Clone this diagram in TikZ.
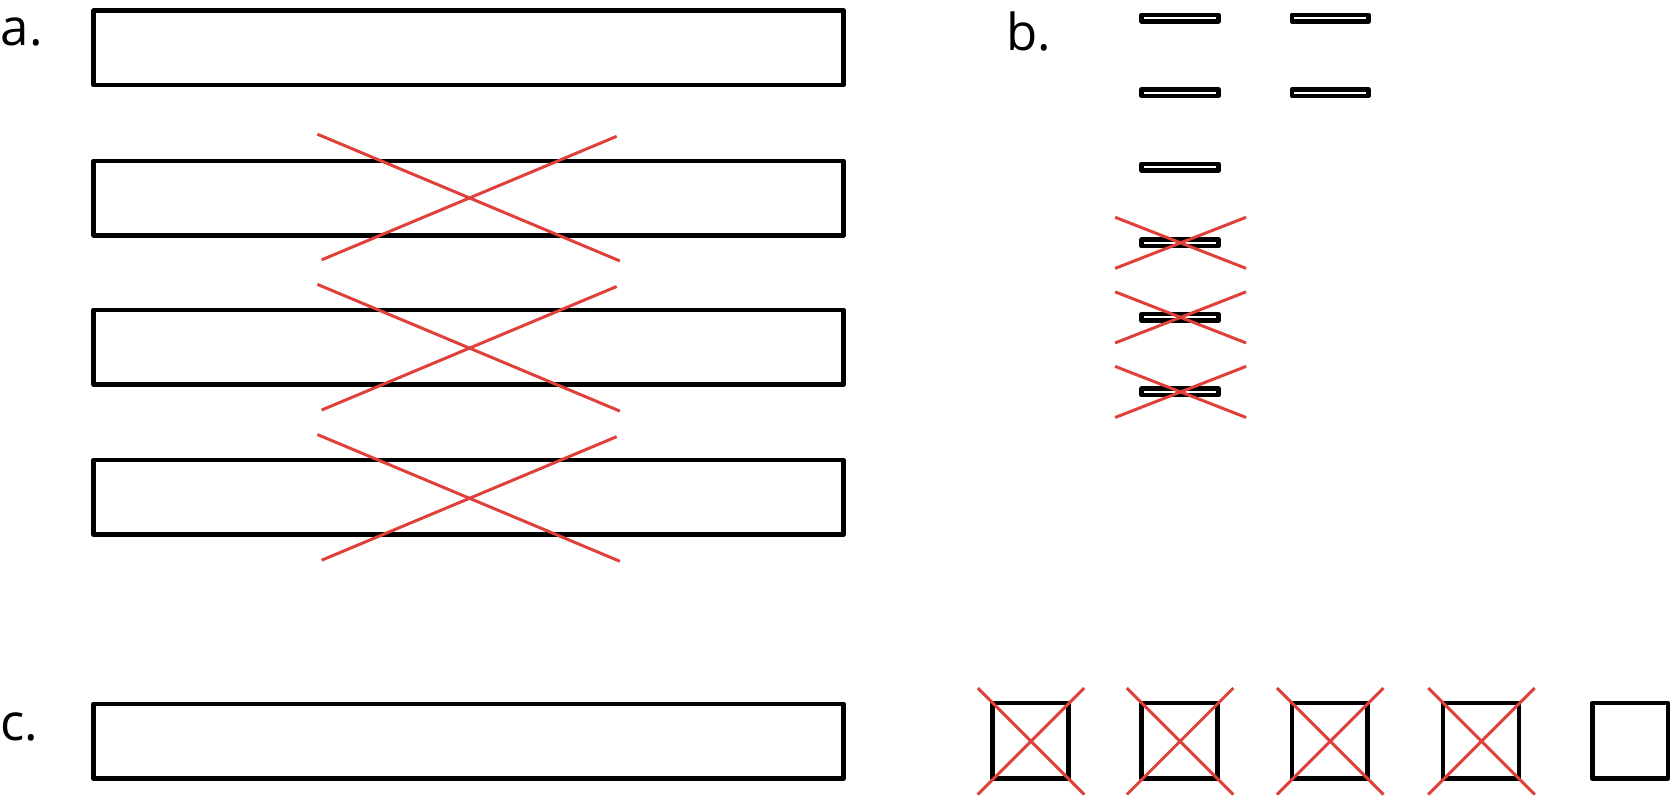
\documentclass[tikz,border=0pt]{standalone}
\usepackage{fontspec}
\setmainfont{Open Sans}
\definecolor{xred}{HTML}{E0403A}
\begin{document}
\begin{tikzpicture}[x=0.01065cm,y=-0.01065cm,
  box/.style={draw=black,line width=1.3pt,line join=round},
  cross/.style={draw=xred,line width=0.85pt},
  lab/.style={font=\fontsize{14.5}{16}\selectfont,anchor=west,inner sep=0}]
\useasboundingbox (0,0) rectangle (1568,750);
\node[lab] (la) at (0,30) {a.};
\node[lab] (lb) at (944,30) {b.};
\node[lab] (lc) at (0,683) {c.};
\foreach \y in {10,151,291,432} \draw[box] (88,\y) rectangle (792,\y+70);
\draw[box] (88,661) rectangle (792,731);
\foreach \y in {0,141,282} {
  \draw[cross] (298,126+\y) -- (582,245+\y);
  \draw[cross] (302,244+\y) -- (579,128+\y);
}
\foreach \y in {17,87,157,228,298,368} \draw[box] (1072,\y-3) rectangle (1144,\y+3);
\foreach \y in {17,87} \draw[box] (1213,\y-3) rectangle (1285,\y+3);
\foreach \y in {228,298,368} {
  \draw[cross] (1047,\y-24) -- (1170,\y+24);
  \draw[cross] (1047,\y+24) -- (1170,\y-24);
}
\foreach \x in {932,1072,1213,1355,1495} \draw[box] (\x,660) rectangle (\x+71,731);
\foreach \x in {932,1072,1213,1355} {
  \draw[cross] (\x-14,646) -- (\x+86,746);
  \draw[cross] (\x-14,746) -- (\x+86,646);
}
\end{tikzpicture}
\end{document}
